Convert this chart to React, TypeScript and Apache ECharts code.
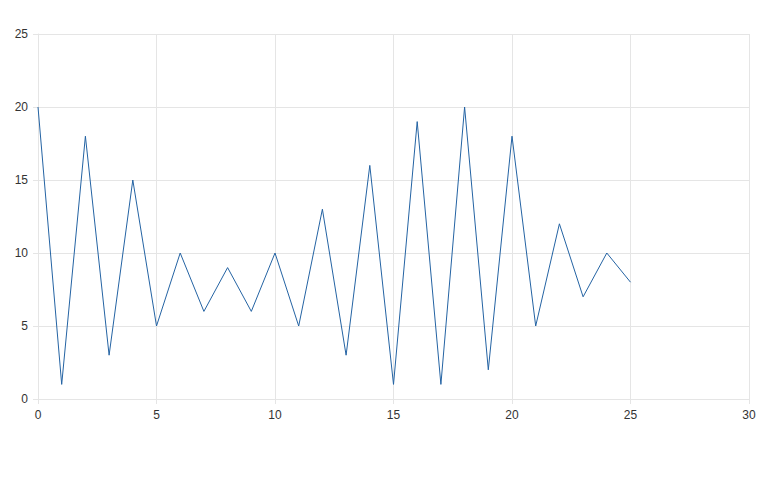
import * as echarts from 'echarts';
import { useEffect, useRef } from 'react';

const xValues = [0, 1, 2, 3, 4, 5, 6, 7, 8, 9, 10, 11, 12, 13, 14, 15, 16, 17, 18, 19, 20, 21, 22, 23, 24, 25];
const yValues = [20, 1, 18, 3, 15, 5, 10, 6, 9, 6, 10, 5, 13, 3, 16, 1, 19, 1, 20, 2, 18, 5, 12, 7, 10, 8];

const gridColor = '#e5e5e5';
const labelStyle = {
  color: '#333',
  fontSize: 12,
  fontFamily: 'Liberation Sans, Arial, sans-serif',
};

const App = () => {
  const chartRef = useRef<HTMLDivElement>(null);

  useEffect(() => {
    if (!chartRef.current) return;
    const chart = echarts.init(chartRef.current, undefined, { renderer: 'svg' });
    chart.setOption({
      animation: false,
      backgroundColor: '#fff',
      grid: { left: 38, right: 21, top: 34, bottom: 84, containLabel: false },
      xAxis: {
        type: 'value',
        min: 0,
        max: 30,
        interval: 5,
        axisLine: { show: true, lineStyle: { color: gridColor } },
        axisTick: { show: true, length: 5, lineStyle: { color: gridColor } },
        splitLine: { show: true, lineStyle: { color: gridColor } },
        axisLabel: { ...labelStyle, margin: 10 },
      },
      yAxis: {
        type: 'value',
        min: 0,
        max: 25,
        interval: 5,
        axisLine: { show: true, lineStyle: { color: gridColor } },
        axisTick: { show: true, length: 5, lineStyle: { color: gridColor } },
        splitLine: { show: true, lineStyle: { color: gridColor } },
        axisLabel: { ...labelStyle, margin: 10 },
      },
      series: [
        {
          type: 'line',
          data: xValues.map((x, i) => [x, yValues[i]]),
          showSymbol: false,
          lineStyle: { color: '#2463a3', width: 1 },
        },
      ],
    });
    return () => chart.dispose();
  }, []);

  return (
    <div
      ref={chartRef}
      style={{ position: 'fixed', left: 0, top: 0, width: 770, height: 483 }}
    ></div>
  );
};

export default App;
